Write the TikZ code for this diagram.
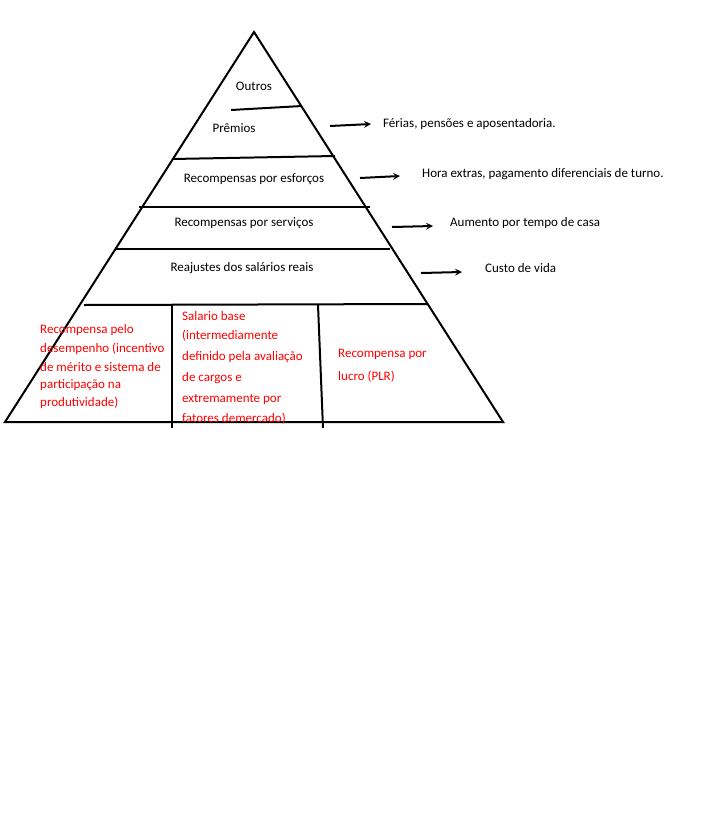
\documentclass[tikz,border=0pt]{standalone}
\usepackage{fontspec}
\setmainfont{Carlito}
\begin{document}
\begin{tikzpicture}[x=1pt,y=-1pt,
 ln/.style={line width=2pt,black},
 ar/.style={line width=2pt,-stealth},
 lbl/.style={font=\fontsize{13}{15}\selectfont,inner sep=0},
 rl/.style={font=\fontsize{13}{15}\selectfont,inner sep=0,anchor=west,text=red}]
\useasboundingbox (0,0) rectangle (701,820);
\coordinate (A) at (254,32); \coordinate (L) at (5,422); \coordinate (R) at (503,422);
\draw[ln,line join=miter] (L) -- (A) -- (R) -- cycle;
\draw[ln] (231,110) -- (302,106);
\draw[ln] (172,159) -- (335,156);
\draw[ln] (139,207) -- (370,207);
\draw[ln] (115,249) -- (390,249);
\draw[ln] (84,305) -- (427,304);
\draw[ln] (172,305) -- (172,428);
\draw[ln] (318,305) -- (323,428);
\node[lbl] (t1) at (254,86) {Outros};
\node[lbl] (t2) at (234,128) {Prêmios};
\node[lbl] (t3) at (254,179) {Recompensas por esforços};
\node[lbl] (t4) at (244,223) {Recompensas por serviços};
\node[lbl] (t5) at (242,268) {Reajustes dos salários reais};
\coordinate (a1) at (330,126); \coordinate (b1) at (371,124);
\coordinate (a2) at (360,178); \coordinate (b2) at (400,176);
\coordinate (a3) at (392,227); \coordinate (b3) at (433,226);
\coordinate (a4) at (421,273); \coordinate (b4) at (462,272);
\draw[ar] (a1) -- (b1); \draw[ar] (a2) -- (b2); \draw[ar] (a3) -- (b3); \draw[ar] (a4) -- (b4);
\node[lbl,anchor=west] (r1) at (383,124) {Férias, pensões e aposentadoria.};
\node[lbl,anchor=west] (r2) at (422,174) {Hora extras, pagamento diferenciais de turno.};
\node[lbl,anchor=west] (r3) at (450,223) {Aumento por tempo de casa};
\node[lbl,anchor=west] (r4) at (485,268) {Custo de vida};
\node[rl] (p1) at (40,330) {Recompensa pelo};
\node[rl] (p2) at (40,349) {desempenho (incentivo};
\node[rl] (p3) at (40,367) {de mérito e sistema de};
\node[rl] (p4) at (40,385) {participação na};
\node[rl] (p5) at (40,403) {produtividade)};
\node[rl] (m1) at (182,316) {Salario base};
\node[rl] (m2) at (182,336) {(intermediamente};
\node[rl] (m3) at (182,357) {definido pela avaliação};
\node[rl] (m4) at (182,378) {de cargos e};
\node[rl] (m5) at (182,399) {extremamente por};
\node[rl] (m6) at (182,419) {fatores demercado)};
\node[rl] (q1) at (338,354) {Recompensa por};
\node[rl] (q2) at (338,377) {lucro (PLR)};
\end{tikzpicture}
\end{document}
